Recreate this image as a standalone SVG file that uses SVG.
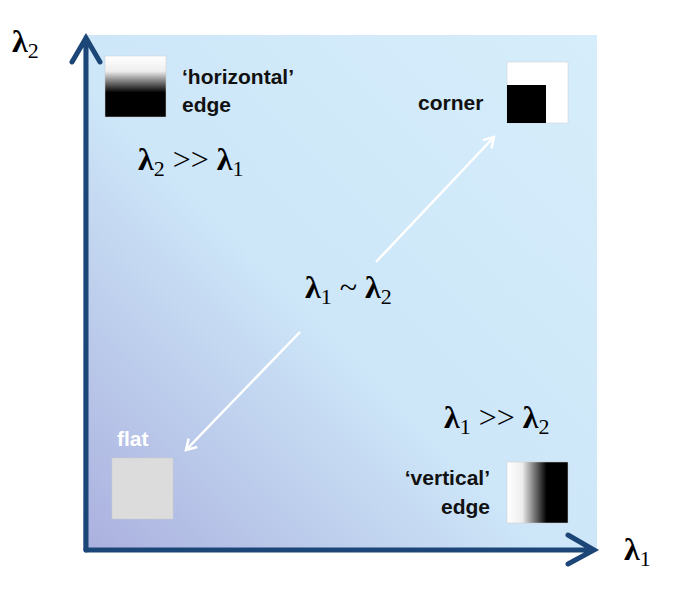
<svg xmlns="http://www.w3.org/2000/svg" width="679" height="590" viewBox="0 0 679 590">
<defs>
<linearGradient id="bg" x1="0" y1="1" x2="1" y2="0">
<stop offset="0" stop-color="#aab0de"/><stop offset="0.45" stop-color="#cde6f8"/><stop offset="1" stop-color="#d6eefb"/>
</linearGradient>
<linearGradient id="hz" x1="0" y1="0" x2="0" y2="1">
<stop offset="0" stop-color="#fff"/><stop offset="0.25" stop-color="#eee"/><stop offset="0.6" stop-color="#000"/><stop offset="1" stop-color="#000"/>
</linearGradient>
<linearGradient id="vt" x1="0" y1="0" x2="1" y2="0">
<stop offset="0" stop-color="#fff"/><stop offset="0.25" stop-color="#eee"/><stop offset="0.65" stop-color="#000"/><stop offset="1" stop-color="#000"/>
</linearGradient>
<marker id="wa" markerWidth="14" markerHeight="14" refX="11" refY="7" orient="auto" markerUnits="userSpaceOnUse"><path d="M1,1 L11,7 L1,13" fill="none" stroke="#fff" stroke-width="2.5"/></marker>
</defs>
<style>
.g{font-family:"Times New Roman","Liberation Serif",serif;font-size:32px;fill:#000}
.l{font-weight:bold}
.s{font-size:22px}
.b{font-family:"Liberation Sans",Arial,sans-serif;font-weight:bold;font-size:21px;fill:#111}
.ax{stroke:#1c4677;stroke-width:5;fill:none;stroke-linecap:round}
</style>
<rect x="83" y="35" width="514" height="515" fill="url(#bg)"/>
<g id="connectors">
<path class="ax" d="M86,550 L86,40 M72,62 L86,38 L100,62"/>
<path class="ax" d="M86,550 L592,550 M568,535 L594,550 L568,564"/>
<line x1="300" y1="332" x2="186" y2="450" stroke="#fff" stroke-width="2.5" marker-end="url(#wa)"/>
<line x1="376" y1="262" x2="494" y2="137" stroke="#fff" stroke-width="2.5" marker-end="url(#wa)"/>
</g>
<g id="axis-labels">
<text class="g" x="12" y="52"><tspan class="l">λ</tspan><tspan class="s" dy="6">2</tspan></text>
<text class="g" x="624" y="560"><tspan class="l">λ</tspan><tspan class="s" dy="6">1</tspan></text>
</g>
<g id="horizontal">
<rect x="105" y="56" width="61" height="61" fill="url(#hz)" stroke="#ccc" stroke-width="0.5"/>
<text class="b" x="182" y="84">‘horizontal’</text>
<text class="b" x="182" y="112">edge</text>
<text class="g" x="138" y="170"><tspan class="l">λ</tspan><tspan class="s" dy="6">2</tspan><tspan dy="-6"> &gt;&gt; </tspan><tspan class="l">λ</tspan><tspan class="s" dy="6">1</tspan></text>
</g>
<g id="corner">
<rect x="507" y="62" width="61" height="61" fill="#fff" stroke="#ccc" stroke-width="0.5"/>
<rect x="507" y="85" width="39" height="38" fill="#000"/>
<text class="b" x="418" y="110">corner</text>
</g>
<g id="center">
<text class="g" x="305" y="298"><tspan class="l">λ</tspan><tspan class="s" dy="6">1</tspan><tspan dy="-6"> ~ </tspan><tspan class="l">λ</tspan><tspan class="s" dy="6">2</tspan></text>
</g>
<g id="flat">
<rect x="112" y="458" width="61" height="61" fill="#dcdcdc" stroke="#ccc" stroke-width="0.5"/>
<text class="b" x="117" y="446" style="fill:#fff">flat</text>
</g>
<g id="vertical">
<rect x="507" y="462" width="61" height="61" fill="url(#vt)" stroke="#ccc" stroke-width="0.5"/>
<text class="g" x="444" y="428"><tspan class="l">λ</tspan><tspan class="s" dy="6">1</tspan><tspan dy="-6"> &gt;&gt; </tspan><tspan class="l">λ</tspan><tspan class="s" dy="6">2</tspan></text>
<text class="b" x="490" y="485" text-anchor="end">‘vertical’</text>
<text class="b" x="490" y="514" text-anchor="end">edge</text>
</g>
</svg>
